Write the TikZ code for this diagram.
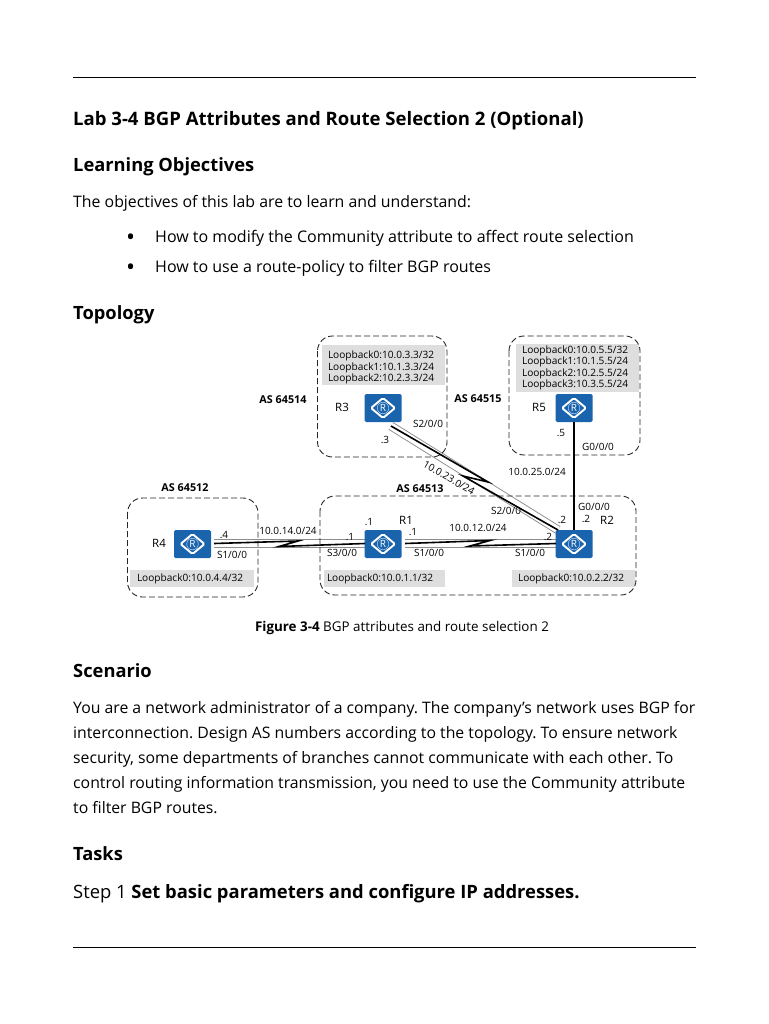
\documentclass[tikz,border=0pt]{standalone}
\usepackage{fontspec}
\setmainfont{Open Sans}
\usetikzlibrary{shapes.geometric, arrows}
\definecolor{routerblue}{HTML}{1A64AE}
\definecolor{loopgray}{HTML}{DEDEDE}
\tikzstyle{heading} = [anchor=base west, inner sep=0pt, font=\fontsize{18.3}{20}\selectfont\bfseries]
\tikzstyle{body} = [anchor=base west, inner sep=0pt, font=\fontsize{15.85}{25}\selectfont]
\tikzstyle{tag} = [inner sep=0pt, font=\fontsize{10}{12}\selectfont]
\tikzstyle{astag} = [inner sep=0pt, font=\fontsize{10.8}{12}\selectfont\bfseries]
\tikzstyle{rname} = [inner sep=0pt, font=\fontsize{11.5}{12}\selectfont]
\tikzstyle{loopbox} = [fill=loopgray, inner ysep=0pt, align=left, font=\fontsize{10.1}{11.4}\selectfont]
\tikzstyle{asbox} = [draw=black!85, dash pattern=on 6pt off 3pt, line width=0.9pt, rounded corners=15pt]
\tikzstyle{router} = [rectangle, rounded corners=1.5pt, fill=routerblue, text=white, minimum width=37pt, minimum height=28pt, inner sep=0pt, font=\fontsize{10}{10}\selectfont,
  path picture={
    \draw [white, line width=1.9pt] ([xshift=-12pt]path picture bounding box.center) -- ([yshift=10pt]path picture bounding box.center) -- ([xshift=12pt]path picture bounding box.center) -- ([yshift=-10pt]path picture bounding box.center) -- cycle;
    \draw [white!70!routerblue, line width=0.5pt] (path picture bounding box.center) circle (5.8pt);}]
\tikzstyle{wire} = [black, line width=1.6pt]
\tikzstyle{sleeve} = [draw=black!45, line width=0.9pt, double=white, double distance=7pt]

\begin{document}
\frenchspacing
\begin{tikzpicture}[x=1pt, y=-1pt]
\useasboundingbox (0,0) rectangle (768,1024);

\draw [black, line width=0.8pt] (73,77) -- (696,77);
\draw [black, line width=0.8pt] (73,947) -- (696,947);

\node (title) [heading, font=\fontsize{18.55}{20}\selectfont\bfseries] at (73,126) {Lab 3-4 BGP Attributes and Route Selection 2 (Optional)};
\node (objectives) [heading] at (73,172) {Learning Objectives};
\node (intro) [body] at (73,208) {The objectives of this lab are to learn and understand:};
\node (dot1) [body, font=\fontsize{24}{25}\selectfont] at (126,245) {•};
\node (item1) [body, font=\fontsize{16}{25}\selectfont] at (155,242) {How to modify the Community attribute to affect route selection};
\node (dot2) [body, font=\fontsize{24}{25}\selectfont] at (126,275) {•};
\node (item2) [body, font=\fontsize{16}{25}\selectfont] at (155,272) {How to use a route-policy to filter BGP routes};
\node (topology) [heading] at (73,319) {Topology};

% links
\coordinate (a41) at (298,541);
\coordinate (b41) at (279,546.5);
\coordinate (a12) at (490,540.5);
\coordinate (b12) at (470,546);
\coordinate (a32) at (488,482);
\coordinate (b32) at (463,476);
\coordinate (s3) at (391,426);
\coordinate (s2) at (558,530);
\coordinate (s4) at (214,543.5);
\coordinate (s1l) at (365,543.5);
\coordinate (s1r) at (405,543.5);
\coordinate (s2l) at (556,543.5);

\draw [sleeve] (s4) -- (s1l);
\draw [sleeve] (s1r) -- (s2l);
\draw [sleeve] (s3) -- (s2);

% AS areas
\node (loop3) [loopbox, inner xsep=6pt, text width=111pt, minimum height=40pt] at (383.5,365) {\rule{0pt}{13pt}Loopback0:10.0.3.3/32\\Loopback1:10.1.3.3/24\\Loopback2:10.2.3.3/24};
\node (loop5) [loopbox, inner xsep=6pt, text width=111pt, minimum height=48pt] at (577.5,368) {Loopback0:10.0.5.5/32\\Loopback1:10.1.5.5/24\\Loopback2:10.2.5.5/24\\Loopback3:10.3.5.5/24};
\node (loop4) [loopbox, inner xsep=7pt, text width=110pt, minimum height=17pt] at (192,578.5) {Loopback0:10.0.4.4/32};
\node (loop1) [loopbox, inner xsep=3pt, text width=115pt, minimum height=17pt] at (384.5,578.5) {Loopback0:10.0.1.1/32};
\node (loop2) [loopbox, inner xsep=6pt, text width=111pt, minimum height=17pt] at (573.5,578.5) {Loopback0:10.0.2.2/32};

\draw [asbox] (317.5,336) rectangle (447,457);
\draw [asbox] (509,336) rectangle (640,455);
\draw [asbox] (127.5,498) rectangle (258,597);
\draw [asbox] (320,496) rectangle (636,595);

\node (r3) [router] at (383,408) {R};
\node (r5) [router] at (574,408) {R};
\node (r4) [router] at (192.5,544) {R};
\node (r1) [router] at (383,544) {R};
\node (r2) [router] at (574,544) {R};

\draw [wire] (s4) -- (a41) -- (b41) -- (s1l);
\draw [wire] (s1r) -- (a12) -- (b12) -- (s2l);
\draw [wire] (s3) -- (a32) -- (b32) -- (s2);
\draw [wire] (r5.south) -- (r2.north);

% labels
\node (as14) [astag] at (283,400) {AS 64514};
\node (as15) [astag] at (478,399) {AS 64515};
\node (as12) [astag] at (185,488) {AS 64512};
\node (as13) [astag] at (420,489) {AS 64513};
\node (n3) [rname] at (342,407) {R3};
\node (n5) [rname] at (539,407) {R5};
\node (n4) [rname] at (159,543) {R4};
\node (n1) [rname] at (406,520) {R1};
\node (n2) [rname] at (607,520) {R2};
\node (d3) [tag] at (385,440) {.3};
\node (p3) [tag] at (428,424) {S2/0/0};
\node (d5) [tag] at (561,433) {.5};
\node (p5) [tag] at (598,447) {G0/0/0};
\node (net25) [tag] at (537,472) {10.0.25.0/24};
\node (p2g) [tag] at (594,507) {G0/0/0};
\node (d2g) [tag] at (586,519) {.2};
\node (d2s) [tag] at (562,520) {.2};
\node (p2s) [tag] at (506,511) {S2/0/0};
\node (net23) [tag, rotate=-30] at (449,478) {10.0.23.0/24};
\node (net12) [tag] at (478,528) {10.0.12.0/24};
\node (d1r) [tag] at (413,532) {.1};
\node (d2r) [tag] at (548,537) {.2};
\node (p1r) [tag] at (429,553) {S1/0/0};
\node (p2r) [tag] at (530,553) {S1/0/0};
\node (p1l) [tag] at (342,553) {S3/0/0};
\node (d1l) [tag] at (350,537) {.1};
\node (d1t) [tag] at (369,522) {.1};
\node (net14) [tag] at (288,531) {10.0.14.0/24};
\node (d4) [tag] at (224,535) {.4};
\node (p4) [tag] at (232,555) {S1/0/0};

\node (caption) [anchor=base, inner sep=0pt, font=\fontsize{13.4}{14}\selectfont] at (402,631) {\textbf{Figure 3-4} BGP attributes and route selection 2};

\node (scenario) [heading] at (73,677) {Scenario};
\node (para) [body, align=left, font=\fontsize{15.8}{25}\selectfont] at (73,813) {You are a network administrator of a company. The company's network uses BGP for\\interconnection. Design AS numbers according to the topology. To ensure network\\security, some departments of branches cannot communicate with each other. To\\control routing information transmission, you need to use the Community attribute\\to filter BGP routes.};
\node (tasks) [heading] at (73,860) {Tasks};
\node (step) [heading, font=\fontsize{18.4}{20}\selectfont] at (73,898) {Step 1 \textbf{Set basic parameters and configure IP addresses.}};

\end{tikzpicture}
\end{document}
